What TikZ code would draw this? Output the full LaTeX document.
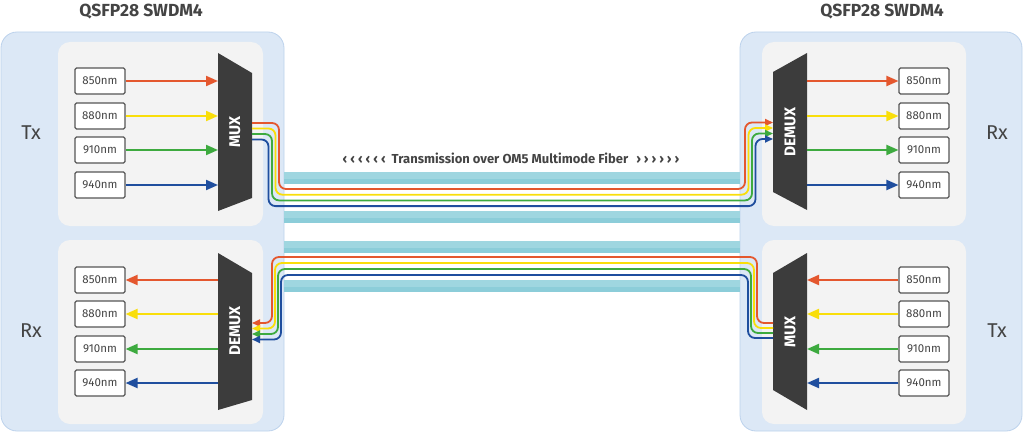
\documentclass[tikz,border=0pt]{standalone}
\usepackage{fontspec}
\setmainfont{Fira Sans}
\usetikzlibrary{calc,arrows.meta}

\definecolor{outerblue}{HTML}{DCE8F6}
\definecolor{outeredge}{HTML}{BCD2EC}
\definecolor{panelgray}{HTML}{F3F3F3}
\definecolor{muxgray}{HTML}{3C3C3C}
\definecolor{boxedge}{HTML}{555555}
\definecolor{textgray}{HTML}{444444}
\definecolor{wred}{HTML}{E4572E}
\definecolor{wyellow}{HTML}{F9DE0A}
\definecolor{wgreen}{HTML}{3DAA3F}
\definecolor{wblue}{HTML}{1F4E9E}
\definecolor{fibercyan}{HTML}{9FD6E0}
\definecolor{fiberdark}{HTML}{8CCDD9}

\tikzset{
  module/.style={fill=outerblue, draw=outeredge, line width=0.8pt, rounded corners=16pt},
  panel/.style={fill=panelgray, rounded corners=12pt},
  lambda/.style={draw=boxedge, fill=white, line width=1.1pt, rounded corners=1.5pt,
    minimum width=50pt, minimum height=26pt, inner sep=0pt,
    font=\fontsize{11.5}{13}\selectfont, text=textgray},
  wdm/.style={fill=muxgray},
  wdmlabel/.style={text=white, font=\bfseries\fontsize{15.5}{17}\selectfont, rotate=90},
  beam/.style={line width=2pt, -{Triangle[length=12pt,width=10pt]}},
  fiber/.style={line width=1.8pt, rounded corners=7pt, -{Triangle[length=8pt,width=7pt]}},
  side/.style={font=\fontsize{20}{22}\selectfont, text=textgray},
  title/.style={font=\bfseries\fontsize{17.5}{20}\selectfont, text=textgray},
}

\begin{document}
\begin{tikzpicture}[x=1pt,y=-1pt]
    \useasboundingbox (0,0) rectangle (1024,433);

    % the two transceivers
    \draw[module] (1,32) rectangle (284,431);
    \draw[module] (740,32) rectangle (1022,431);
    \node[title] (ltitle) at (141,12) {QSFP28 SWDM4};
    \node[title] (rtitle) at (882,12) {QSFP28 SWDM4};
    \fill[panel] (58,42) rectangle (263,226);
    \fill[panel] (58,240) rectangle (263,424);
    \fill[panel] (762,42) rectangle (966,226);
    \fill[panel] (762,240) rectangle (966,424);
    \node[side] (ltx) at (31,133) {Tx};
    \node[side] (lrx) at (31,331) {Rx};
    \node[side] (rrx) at (997,133) {Rx};
    \node[side] (rtx) at (997,331) {Tx};

    % fibre ribbons
    \foreach \y in {172,211,241,280} {
        \fill[fibercyan] (284,\y) rectangle (740,\y+12);
        \fill[fiberdark] (284,\y+7) rectangle (740,\y+12);
    }
    \node[font=\bfseries\fontsize{13}{15}\selectfont, text=textgray] (om5) at (511,158)
        {‹\hspace{3pt}‹\hspace{3pt}‹\hspace{3pt}‹\hspace{3pt}‹\hspace{3pt}‹\hspace{6pt}Transmission over OM5 Multimode Fiber\hspace{8pt}›\hspace{3pt}›\hspace{3pt}›\hspace{3pt}›\hspace{3pt}›\hspace{3pt}›};

    % mux / demux blocks
    \fill[wdm] (218,53) -- (252,73) -- (252,198) -- (218,211) -- cycle;
    \node[wdmlabel] (lmux) at (235,132) {MUX};
    \fill[wdm] (218,253) -- (252,273) -- (252,400) -- (218,410) -- cycle;
    \node[wdmlabel] (ldemux) at (235,331) {DEMUX};
    \fill[wdm] (773,72) -- (807,53) -- (807,210) -- (773,192) -- cycle;
    \node[wdmlabel] (rdemux) at (790,132) {DEMUX};
    \fill[wdm] (773,273) -- (807,253) -- (807,410) -- (773,390) -- cycle;
    \node[wdmlabel] (rmux) at (790,332) {MUX};
    \coordinate (lwdmin) at (218,0);
    \coordinate (rwdmin) at (807,0);

    % wavelengths
    \foreach \wl/\c/\yt/\yb in {850/wred/81/280,880/wyellow/116/314,910/wgreen/150/349,940/wblue/185/383} {
        \node[lambda] (ltx\wl) at (100,\yt) {\wl nm};
        \node[lambda] (lrx\wl) at (100,\yb) {\wl nm};
        \node[lambda] (rrx\wl) at (924,\yt) {\wl nm};
        \node[lambda] (rtx\wl) at (924,\yb) {\wl nm};
        \draw[beam,\c] (ltx\wl) -- (ltx\wl -| lwdmin);
        \draw[beam,\c] (lrx\wl -| lwdmin) -- (lrx\wl);
        \draw[beam,\c] (rrx\wl -| rwdmin) -- (rrx\wl);
        \draw[beam,\c] (rtx\wl) -- (rtx\wl -| rwdmin);
    }

    % fibre lanes
    \foreach \c [count=\i from 0] in {wred,wyellow,wgreen,wblue} {
        \coordinate (lmuxo\i) at (252,123+5.5*\i);
        \coordinate (rdemuxi\i) at (773,122.5+5.5*\i);
        \draw[fiber,\c] (lmuxo\i) -| (279-3.5*\i,189+5.7*\i) -| (745+3.5*\i,122.5+5.5*\i) -- (rdemuxi\i);
        \coordinate (rmuxo\i) at (773,323+5*\i);
        \coordinate (ldemuxi\i) at (252,323+5.5*\i);
        \draw[fiber,\c] (rmuxo\i) -| (757-3*\i,257+6*\i) -| (272+3*\i,323+5.5*\i) -- (ldemuxi\i);
    }
\end{tikzpicture}
\end{document}
